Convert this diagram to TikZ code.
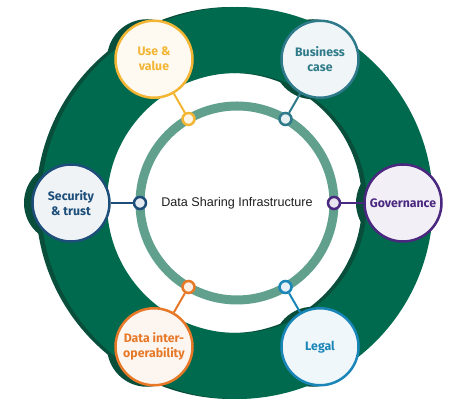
\documentclass[tikz,border=0pt]{standalone}
\usepackage{fontspec}
\setmainfont{Liberation Sans}
\newfontfamily\topicfont{Fira Sans}
\usetikzlibrary{calc}
\definecolor{dsring}{RGB}{0,106,79}
\definecolor{dsshade}{RGB}{9,78,58}
\definecolor{dslight}{RGB}{96,160,141}
\definecolor{dsgold}{RGB}{242,181,52}
\definecolor{dsteal}{RGB}{47,122,138}
\definecolor{dsnavy}{RGB}{29,78,122}
\definecolor{dspurple}{RGB}{75,40,128}
\definecolor{dsorange}{RGB}{230,120,40}
\definecolor{dsblue}{RGB}{26,134,184}
\definecolor{dsink}{RGB}{30,30,30}
\tikzset{
  topic/.style={circle,draw=#1,fill=#1!7,line width=2.5pt,minimum size=77pt,
    inner sep=0pt,align=center,text=#1,
    font=\topicfont\bfseries\fontsize{12.3}{15}\selectfont},
  hook/.style={circle,draw=#1,fill=#1!12,line width=2.5pt,minimum size=12pt,inner sep=0pt},
}

\begin{document}
\begin{tikzpicture}[x=1pt,y=1pt]
  \useasboundingbox (0,0) rectangle (474,406);
  \coordinate (hub) at (237,203);
  % shade under the band and the topics
  \fill[dsshade,even odd rule] ($(hub)+(-5pt,0pt)$) circle (196pt) ($(hub)+(-5pt,0pt)$) circle (130pt);
  \foreach \ang in {0,60,...,300}
    {\fill[dsshade] ($(hub)+(\ang:166pt)+(-7pt,0pt)$) circle (40pt);}
  % band and inner ring
  \fill[dsring,even odd rule] (hub) circle (196pt) (hub) circle (130pt);
  \draw[dslight,line width=9pt] (hub) circle (97pt);
  \node[text=dsink,font=\fontsize{12.6}{15}\selectfont] (core) at (hub) {Data Sharing Infrastructure};
  \foreach \ang/\name/\txt/\col in {120/use/{Use \&\\value}/dsgold,
      60/business/{Business\\case}/dsteal,
      180/security/{Security\\\& trust}/dsnavy,
      0/governance/{Governance}/dspurple,
      240/interop/{Data inter-\\operability}/dsorange,
      300/legal/{Legal}/dsblue}
    {\node[topic=\col] (topic-\name) at ($(hub)+(\ang:166pt)$) {\txt};
     \node[hook=\col] (dot-\name) at ($(hub)+(\ang:97pt)$) {};
     \draw[\col,line width=2pt] (dot-\name) -- (topic-\name);}
\end{tikzpicture}
\end{document}
